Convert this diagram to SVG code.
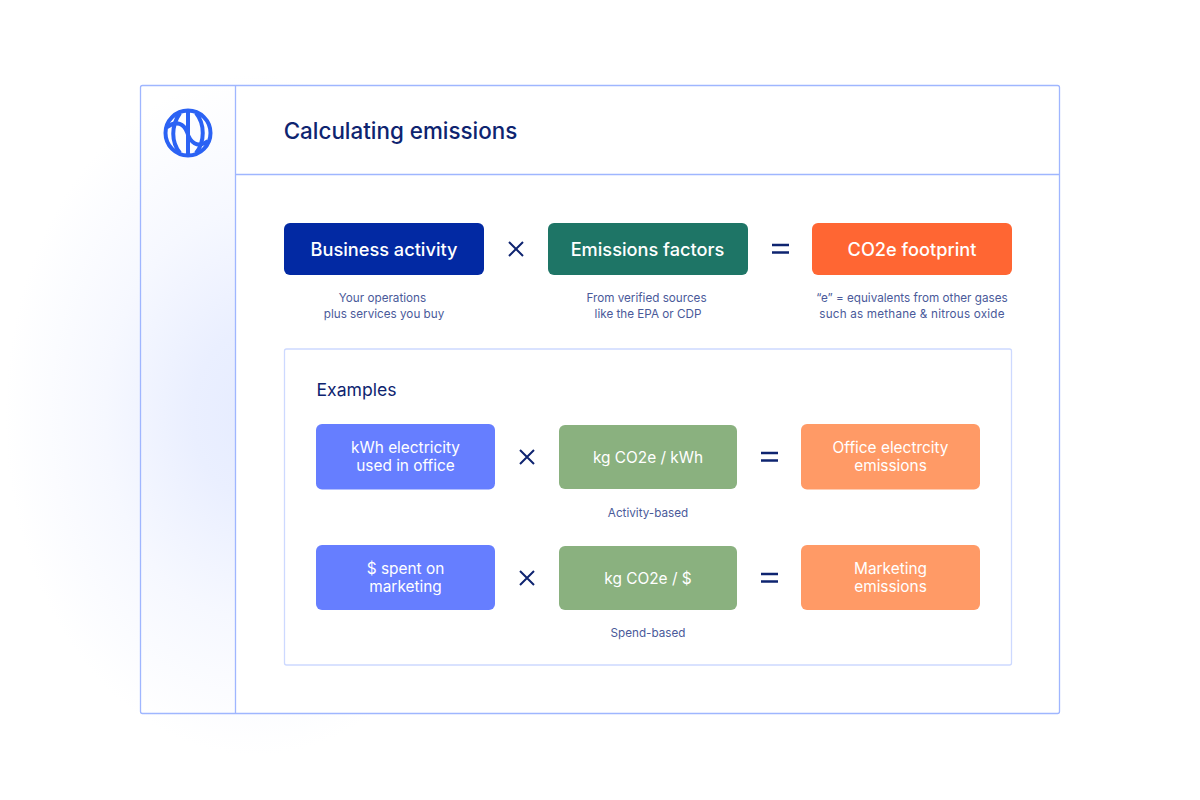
<svg xmlns="http://www.w3.org/2000/svg" width="1200" height="800" viewBox="0 0 1200 800">
<defs>
<radialGradient id="glow" gradientUnits="userSpaceOnUse" cx="255" cy="415" r="250" gradientTransform="translate(255 415) scale(1 1.36) translate(-255 -415)">
<stop offset="0" stop-color="#e6ecff"/><stop offset="0.25" stop-color="#eaefff"/><stop offset="0.6" stop-color="#f6f8ff"/><stop offset="1" stop-color="#ffffff"/>
</radialGradient>
</defs>
<style>
text{font-family:Inter,"Liberation Sans",sans-serif;text-anchor:middle}
.h{font-size:18.2px;font-weight:500;fill:#fff}
.b{font-size:15.4px;fill:#fff}
.s{font-size:11.7px;fill:#4a5a9a}
.op{stroke:#0e2470;stroke-width:2;fill:none}
.eq{stroke:#0e2470;stroke-width:2.6;fill:none}
.frame{stroke:#9fb6ff;stroke-width:1.3;fill:none}
</style>
<rect width="1200" height="800" fill="#fff"/>
<rect x="0" y="70" width="560" height="730" fill="url(#glow)"/>
<rect x="141" y="85" width="918" height="628" fill="#fff"/>
<rect x="141" y="85" width="95" height="628" fill="url(#glow)"/>
<g id="frame">
<rect class="frame" x="140.500" y="85.500" width="919" height="628" rx="2"/>
<path class="frame" d="M235.500 85.500V713.500M235.500 174.500H1059.500"/>
</g>
<g id="logo" fill="none" stroke="#2b62f4" stroke-width="4">
<circle cx="188" cy="133" r="22.500"/>
<path d="M188 111V155"/>
<path d="M180 113C171 126 171 142 180 153"/>
<path d="M196 113C205 124 205 142 196 153"/>
<path d="M167 127C177 120 184 124 187 132C190 142 197 149 208 141"/>
</g>
<text x="400.500" y="139" style="font-size:22.400px;font-weight:500;fill:#0e2470">Calculating emissions</text>
<g id="business"><rect x="284" y="223" width="200" height="52" rx="6" fill="#0229a3"/><text class="h" x="384" y="255.500">Business activity</text></g>
<path class="op" d="M509 242L523 256M523 242L509 256"/>
<g id="factors"><rect x="548" y="223" width="200" height="52" rx="6" fill="#1e7566"/><text class="h" x="647.500" y="255.500">Emissions factors</text></g>
<path class="eq" d="M772 245H789M772 252.500H789"/>
<g id="footprint"><rect x="812" y="223" width="200" height="52" rx="6" fill="#ff6633"/><text class="h" x="912" y="255.500">CO2e footprint</text></g>
<text class="s" x="382.500" y="302">Your operations</text><text class="s" x="384" y="318">plus services you buy</text>
<text class="s" x="646.500" y="302">From verified sources</text><text class="s" x="648" y="318">like the EPA or CDP</text>
<text class="s" x="912" y="302">“e” = equivalents from other gases</text><text class="s" x="912" y="318" style="letter-spacing:.2px">such as methane &amp; nitrous oxide</text>
<rect x="284.500" y="349" width="727" height="316" rx="2" fill="#fff" stroke="#cdd9ff" stroke-width="1.300"/>
<text x="356.500" y="396" style="font-size:17.600px;fill:#0e2470">Examples</text>
<g id="kwh"><rect x="316" y="424" width="179" height="65.500" rx="6" fill="#667eff"/><text class="b" x="405.500" y="453">kWh electricity</text><text class="b" x="405.500" y="471">used in office</text></g>
<path class="op" d="M520 450L534 464M534 450L520 464"/>
<g id="kgkwh"><rect x="559" y="425" width="178" height="64" rx="6" fill="#8ab17f"/><text class="b" x="648" y="463">kg CO2e / kWh</text></g>
<path class="eq" d="M761 453H778M761 460.500H778"/>
<g id="office"><rect x="801" y="424" width="179" height="65.500" rx="6" fill="#ff9a66"/><text class="b" x="890.500" y="453">Office electrcity</text><text class="b" x="890.500" y="471">emissions</text></g>
<text class="s" x="648" y="517">Activity-based</text>
<g id="spent"><rect x="316" y="545" width="179" height="65" rx="6" fill="#667eff"/><text class="b" x="405.500" y="574">$ spent on</text><text class="b" x="405.500" y="592">marketing</text></g>
<path class="op" d="M520 571L534 585M534 571L520 585"/>
<g id="kgusd"><rect x="559" y="546" width="178" height="64" rx="6" fill="#8ab17f"/><text class="b" x="648" y="584">kg CO2e / $</text></g>
<path class="eq" d="M761 574H778M761 581.500H778"/>
<g id="marketing"><rect x="801" y="545" width="179" height="65" rx="6" fill="#ff9a66"/><text class="b" x="890.500" y="574">Marketing</text><text class="b" x="890.500" y="592">emissions</text></g>
<text class="s" x="648" y="637">Spend-based</text>
</svg>
